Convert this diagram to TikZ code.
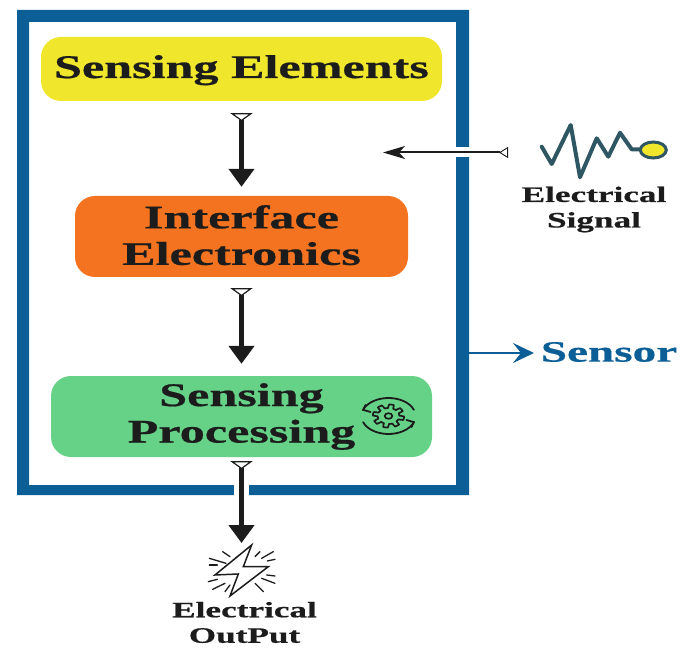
\documentclass[tikz,border=0pt]{standalone}
\usepackage{fontspec}
\setmainfont{Liberation Serif}[FakeStretch=1.52,BoldFont={Liberation Serif Bold},BoldFeatures={FakeBold=0.6}]
\newfontfamily\lblfont{Liberation Serif Bold}[FakeStretch=1.6,FakeBold=0.6]
\usetikzlibrary{arrows.meta,calc,shapes.geometric}
\definecolor{framecol}{HTML}{0B5E96}
\definecolor{yellowbox}{HTML}{F0E62B}
\definecolor{orangebox}{HTML}{F47320}
\definecolor{greenbox}{HTML}{66D287}
\definecolor{sigteal}{HTML}{2F5663}
\definecolor{ink}{HTML}{1C1C1C}
\tikzset{
  x=1pt,y=-1pt,
  box/.style={rounded corners=20pt,inner sep=0pt,align=center,text=ink,font=\bfseries\fontsize{33}{36.5}\selectfont},
  lbl/.style={inner sep=0pt,align=center,text=ink,font=\lblfont\fontsize{22}{25.5}\selectfont},
  flow/.style={draw=ink,line width=5pt,{Triangle[open,fill=white,line width=1.2pt,length=8pt,width=22pt,reversed]}-{Triangle[length=18pt,width=25pt]}},
  thin flow/.style={draw=ink,line width=2pt,{Triangle[open,fill=white,line width=.9pt,length=9pt,width=11pt,reversed]}-{Stealth[length=22pt,width=13pt,inset=6pt]}},
  icon/.style={draw=ink,line width=1.5pt,line cap=round,line join=miter},
}
\begin{document}
\begin{tikzpicture}
\useasboundingbox (0,0) rectangle (685,652);
% frame with its two gaps
\fill[framecol,even odd rule] (17,10) rectangle (469,495) (29,22) rectangle (456,485);
\fill[white] (450,147) rectangle (475,157);
\fill[white] (234,480) rectangle (249,500);
% boxes
\node[box,fill=yellowbox,minimum width=401pt,minimum height=64pt] (sense) at (241.5,69) {\raisebox{-9pt}[0pt][0pt]{Sensing Elements}};
\node[box,fill=orangebox,minimum width=333pt,minimum height=81pt] (iface) at (241.5,236.5) {\raisebox{3pt}{Interface}\\\raisebox{3pt}{Electronics}};
\node[box,fill=greenbox,minimum width=381pt,minimum height=81pt] (proc) at (241.5,416.5) {Sensing\\Processing};
% gear icon
\begin{scope}[shift={(388.5,416)}]
  \begin{scope}[xscale=1.35]
    \draw[icon,line width=1.7pt,line join=round] plot[samples=145,domain=0:360] ({(9.8+1.8*max(-1,min(1,3*sin(8*\x))))*cos(\x)},{(9.8+1.8*max(-1,min(1,3*sin(8*\x))))*sin(\x)}) -- cycle;
    \draw[icon,line width=1.7pt] (0,0) circle (2.8);
  \end{scope}
  \draw[icon,line width=1.8pt] plot[smooth,samples=16,domain=200:340] ({27*cos(\x)},{18*sin(\x)});
  \draw[icon,line width=1.8pt] plot[smooth,samples=16,domain=20:160] ({27*cos(\x)},{18*sin(\x)});
  \draw[icon,line width=1.8pt] (-23,-11) -- ({27*cos(200)},{18*sin(200)}) -- (-18,-4);
  \draw[icon,line width=1.8pt] (23,11) -- ({27*cos(20)},{18*sin(20)}) -- (18,4);
\end{scope}
% signal icon
\draw[sigteal,line width=4pt,line join=round,line cap=round] (541.7,146.7) -- (551.7,164) -- (570.7,125) -- (580,177.3) -- (596.7,138.3) -- (608.3,156.7) -- (620,132.7) -- (631.7,149.3) -- (641.7,149.3);
\node[draw=sigteal,line width=3pt,fill=yellowbox,ellipse,minimum width=26pt,minimum height=16pt,inner sep=0pt] (dot) at (653.3,150) {};
\node[lbl] (sig) at (594,209.5) {Electrical\\Signal};
\coordinate (sigstart) at (508,152.5);
\coordinate (sigend) at (383,152.5);
\draw[thin flow] (sigstart) -- (sigend);
% sensor
\coordinate (senstart) at (469,353);
\node[inner sep=0pt,text=framecol,font=\lblfont\fontsize{29.5}{32}\selectfont] (sensor) at (609,352) {Sensor};
\draw[framecol,line width=2pt,-{Stealth[length=21pt,width=20pt,inset=8pt]}] (senstart) -- (534,353);
% bolt
\begin{scope}[shift={(160,450)},scale=.3333]
  \draw[icon] (275,285) -- (165,375) -- (235,372) -- (210,438) -- (325,350) -- (250,350) -- cycle;
  \foreach \a/\b/\c/\d in {188/305/210/320,148/325/198/340,148/345/172/345,300/305/285/320,340/305/305/325,345/328/322/333,145/395/172/388,158/418/195/400,195/425/210/405,285/400/310/425,305/385/345/400,320/375/345/378}
    \draw[icon,line width=1.3pt] (\a,\b) -- (\c,\d);
\end{scope}
\coordinate (bolt) at (241.5,543);
\node[lbl] (out) at (244.5,622.5) {Electrical\\OutPut};
% connectors
\draw[flow,shorten <=12pt,shorten >=9pt] (sense.south) -- (iface.north);
\draw[flow,shorten <=11pt,shorten >=12pt] (iface.south) -- (proc.north);
\draw[flow,shorten <=4pt] (proc.south) -- (bolt);
\end{tikzpicture}
\end{document}
